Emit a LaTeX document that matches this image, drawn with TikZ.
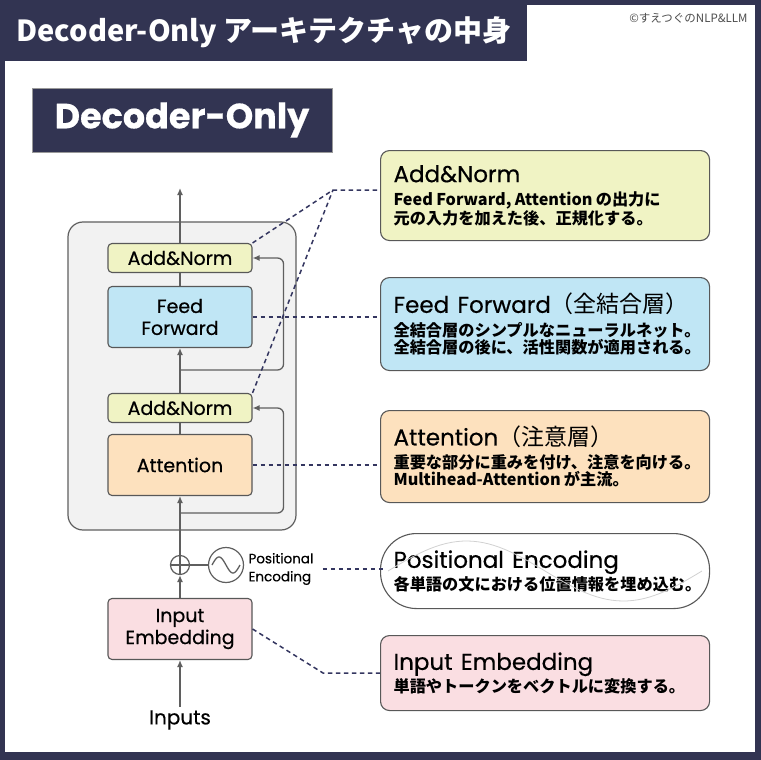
\documentclass[tikz,border=0pt]{standalone}
\usepackage{fontspec}
\setmainfont{Noto Sans CJK JP}
\newfontfamily\pop[FakeBold=0.5]{Poppins}
\usetikzlibrary{arrows.meta,positioning}
\definecolor{navy}{RGB}{50,52,82}
\definecolor{linkblue}{RGB}{52,54,96}
\definecolor{flowgray}{RGB}{95,95,95}
\definecolor{boxline}{RGB}{88,88,88}
\definecolor{normfill}{RGB}{240,243,196}
\definecolor{fffill}{RGB}{192,230,245}
\definecolor{attfill}{RGB}{253,225,190}
\definecolor{embfill}{RGB}{250,222,226}
\definecolor{shellfill}{RGB}{242,242,242}
\newcommand{\wsp}{\hspace{0.36em}}
\tikzset{
    diagram-block/.style = {draw=boxline, line width=1.1pt, rounded corners=4pt, minimum width=144pt, align=center, inner sep=2pt, font=\pop\fontsize{19}{22}\selectfont},
    norm-block/.style = {diagram-block, fill=normfill, minimum height=29pt},
    big-block/.style = {diagram-block, minimum height=61pt},
    info-box/.style = {draw=boxline, line width=1.1pt, rounded corners=9pt, anchor=north west, text width=303pt, inner xsep=13pt, align=left},
    flow/.style = {draw=flowgray, line width=1.3pt},
    flow-arrow/.style = {flow, -{Latex[length=7pt,width=6pt]}},
    link/.style = {draw=linkblue, line width=1.5pt, dash pattern=on 4.5pt off 3.5pt},
}
\newcommand{\infobody}{\bfseries\fontsize{16.2}{22.5}\selectfont}
\newcommand{\infotitle}{\pop\fontsize{23}{26}\selectfont}

\begin{document}
\begin{tikzpicture}[x=1pt,y=-1pt]
\fill[navy] (0,0) rectangle (761,760);
\fill[white] (5,61) rectangle (755,752);
\fill[white] (527,5) rectangle (755,62);
\node[text=white, font=\bfseries\fontsize{29}{32}\selectfont, anchor=west] (title) at (13,32) {Decoder-Only アーキテクチャの中身};
\node[text=black!70, font=\fontsize{11.5}{13}\selectfont, anchor=east] (credit) at (751,18) {©すえつぐのNLP\&LLM};
\node[fill=navy, draw=black!40, minimum width=300pt, minimum height=64pt, text=white, font=\pop\bfseries\fontsize{35}{38}\selectfont] (heading) at (182,120) {Decoder-Only};

\draw[fill=shellfill, draw=flowgray, line width=1.2pt, rounded corners=15pt] (68,222) rectangle (296,530);

\node[norm-block] (norm2) at (180,258) {Add\&Norm};
\node[big-block, fill=fffill] (ff) at (180,317) {Feed\\Forward};
\node[norm-block] (norm1) at (180,408) {Add\&Norm};
\node[big-block, fill=attfill] (att) at (180,465) {Attention};
\node[draw=flowgray, line width=1.2pt, circle, minimum size=19pt, inner sep=0pt] (plus) at (180,565) {};
\node[draw=flowgray, line width=1.2pt, circle, minimum size=35pt, inner sep=0pt] (wave) at (226,565) {};
\node[anchor=west, align=left, font=\pop\fontsize{13.5}{18}\selectfont] (pe-label) at (245,569) {Positional\\Encoding};
\node[big-block, fill=embfill] (emb) at (180,629) {Input\\Embedding};
\node[font=\pop\fontsize{20}{22}\selectfont] (inputs) at (180,720) {Inputs};
\coordinate (out) at (180,188);
\coordinate (res2) at (180,370);
\coordinate (res1) at (180,513);

\draw[flow] (plus.west) -- (plus.east) (plus.north) -- (plus.south);
\draw[flow] plot[domain=0:360, samples=40] ({212+\x/360*28},{565-8*sin(\x)});

\draw[flow-arrow] (norm2) -- (out);
\draw[flow] (ff) -- (norm2);
\draw[flow-arrow] (norm1) -- (ff);
\draw[flow] (att) -- (norm1);
\draw[flow-arrow] (plus) -- (att);
\draw[flow-arrow] (emb) -- (plus);
\draw[flow-arrow] (inputs) -- (emb);
\draw[flow] (plus) -- (wave);
\draw[flow-arrow, rounded corners=6pt] (res2) -| ([xshift=31pt]norm2.east) -- (norm2.east);
\draw[flow-arrow, rounded corners=6pt] (res1) -| ([xshift=31pt]norm1.east) -- (norm1.east);

\node[info-box, fill=normfill, minimum height=90pt] (info-norm) at (380,150) {{\infotitle Add\&Norm}\par\vspace{1pt}{\infobody Feed Forward, Attention の出力に\par 元の入力を加えた後、正規化する。}};
\node[info-box, fill=fffill, minimum height=93pt] (info-ff) at (380,277) {{\infotitle Feed\wsp Forward{\normalfont（全結合層）}}\par\vspace{1pt}{\infobody 全結合層のシンプルなニューラルネット。\par 全結合層の後に、活性関数が適用される。}};
\node[info-box, fill=attfill, minimum height=92pt] (info-att) at (380,410) {{\infotitle Attention{\normalfont（注意層）}}\par\vspace{1pt}{\infobody 重要な部分に重みを付け、注意を向ける。\par Multihead-Attention が主流。}};
\node[info-box, fill=white, rounded corners=36pt, minimum height=75pt] (info-pe) at (380,533) {{\infotitle Positional\wsp Encoding}\par\vspace{1pt}{\infobody 各単語の文における位置情報を埋め込む。}};
\draw[black!18, line width=0.8pt] plot[domain=0:360, samples=60] ({388+\x/360*314},{571-30*sin(\x)});
\node[info-box, fill=embfill, minimum height=75pt] (info-emb) at (380,635) {{\infotitle Input\wsp Embedding}\par\vspace{1pt}{\infobody 単語やトークンをベクトルに変換する。}};

\coordinate (knee) at (333,190);
\coordinate (knee2) at (323,673);
\draw[link] (norm2.north east) -- (knee) -- (knee -| info-norm.west);
\draw[link] (norm1.north east) -- (knee);
\draw[link] (ff.east) -- (ff.east -| info-ff.west);
\draw[link] (att.east) -- (att.east -| info-att.west);
\draw[link] ([xshift=6pt]pe-label.east) -- ([xshift=6pt]pe-label.east -| info-pe.west);
\draw[link] (emb.east) -- (knee2) -- (knee2 -| info-emb.west);
\end{tikzpicture}
\end{document}
